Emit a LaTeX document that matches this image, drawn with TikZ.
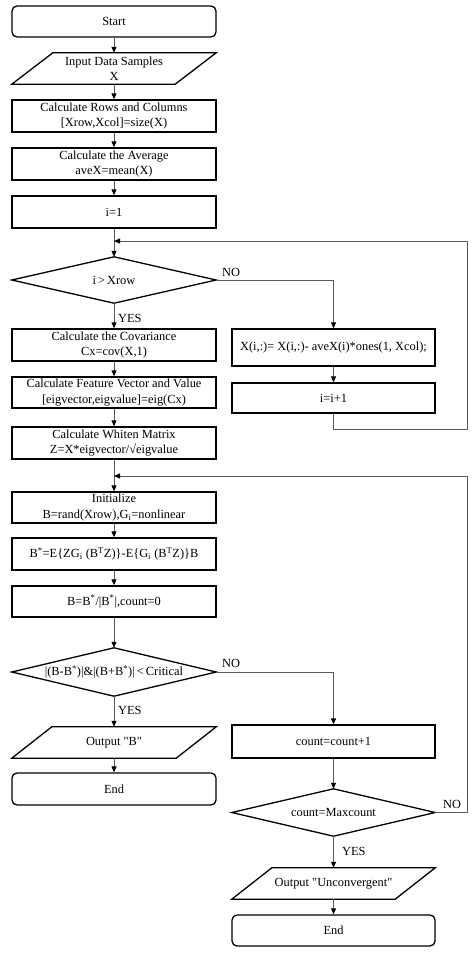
\documentclass[tikz,border=0pt]{standalone}
\usepackage{fontspec}
\setmainfont{Liberation Serif}[Ligatures=TeXOff]
\usetikzlibrary{arrows.meta,calc}
\begin{document}
\begin{tikzpicture}[x=1pt,y=-1pt,
  every node/.style={font=\fontsize{12.4}{15.5}\selectfont, align=center, inner sep=0pt},
  box/.style={draw=black, line width=1.3pt, minimum height=#1, minimum width=204pt},
  rbox/.style={draw=black, line width=1.3pt, minimum height=#1, minimum width=203pt},
  term/.style={draw=black, line width=1.3pt, rounded corners=5pt, minimum height=#1, minimum width=204pt},
  rterm/.style={draw=black, line width=1.3pt, rounded corners=5pt, minimum height=#1, minimum width=203pt},
  ghost/.style={minimum height=#1, minimum width=204pt},
  rghost/.style={minimum height=#1, minimum width=203pt},
  shapeline/.style={draw=black, line width=1.3pt, line join=miter},
  conn/.style={draw=black!65, line width=1pt, -{Stealth[length=6pt,width=5pt,inset=0pt,color=black]}},
  lbl/.style={font=\fontsize{12.4}{15}\selectfont}
]
\useasboundingbox (0,0) rectangle (474,953);
\fill[white] (0,0) rectangle (474,953);

% left column
\node[term=31pt] (start) at (114,21.5) {Start};
\node[ghost=31pt] (input) at (114,68.5) {Input Data Samples\\X};
\draw[shapeline] ($(input.north west)+(41,0)$) -- (input.north east) -- ($(input.south east)+(-41,0)$) -- (input.south west) -- cycle;
\node[box=32pt] (rows) at (114,116) {Calculate Rows and Columns\\{}[Xrow,Xcol]=size(X)};
\node[box=32pt] (avg) at (114,164) {Calculate the Average\\aveX=mean(X)};
\node[box=32pt] (i1) at (114,212) {i=1};
\node[ghost=46pt] (d1) at (114,280) {i\,>\,Xrow};
\draw[shapeline] (d1.north) -- (d1.east) -- (d1.south) -- (d1.west) -- cycle;
\node[box=32pt] (cov) at (114,345) {Calculate the Covariance\\Cx=cov(X,1)};
\node[box=31pt] (feat) at (114,392.5) {Calculate Feature Vector and Value\\{}[eigvector,eigvalue]=eig(Cx)};
\node[box=32pt] (whit) at (114,443) {Calculate Whiten Matrix\\Z=X*eigvector/√eigvalue};
\node[box=31pt] (init) at (114,507.5) {Initialize\\B=rand(Xrow),G\textsubscript{i}=nonlinear};
\node[box=32pt] (bstar) at (114,554) {B\textsuperscript{*}=E\{ZG\textsubscript{i} (B\textsuperscript{T}Z)\}-E\{G\textsubscript{i} (B\textsuperscript{T}Z)\}B};
\node[box=31pt] (bnorm) at (114,601.5) {B=B\textsuperscript{*}/|B\textsuperscript{*}|,count=0};
\node[ghost=48pt] (d2) at (114,672) {|(B-B\textsuperscript{*})|\&|(B+B\textsuperscript{*})|\,<\,Critical};
\draw[shapeline] (d2.north) -- (d2.east) -- (d2.south) -- (d2.west) -- cycle;
\node[ghost=31pt] (outb) at (114,742.5) {Output "B"};
\draw[shapeline] ($(outb.north west)+(40,0)$) -- (outb.north east) -- ($(outb.south east)+(-40,0)$) -- (outb.south west) -- cycle;
\node[term=32pt] (end1) at (114,789) {End};

% right column
\node[rbox=37pt] (xbox) at (333.5,347.5) {X(i,:)= X(i,:)- aveX(i)*ones(1, Xcol);};
\node[rbox=30pt] (inc) at (333.5,398) {i=i+1};
\node[rbox=33pt] (cnt) at (333.5,741.5) {count=count+1};
\node[rghost=47pt] (d3) at (333.5,812.5) {count=Maxcount};
\draw[shapeline] (d3.north) -- (d3.east) -- (d3.south) -- (d3.west) -- cycle;
\node[rghost=31pt] (outu) at (333.5,883.5) {Output "Unconvergent"};
\draw[shapeline] ($(outu.north west)+(40,0)$) -- (outu.north east) -- ($(outu.south east)+(-40,0)$) -- (outu.south west) -- cycle;
\node[rterm=31pt] (end2) at (333.5,930.5) {End};

% merge points
\coordinate (m1) at (114,241);
\coordinate (r1) at (467,429);
\coordinate (m2) at (114,476);
\coordinate (r2) at (467,476);

% connectors
\draw[conn] (start) -- (input);
\draw[conn] (input) -- (rows);
\draw[conn] (rows) -- (avg);
\draw[conn] (avg) -- (i1);
\draw[conn] (i1) -- (d1);
\draw[conn] (d1) -- (cov);
\draw[conn] (d1.east) -| (xbox.north);
\draw[conn] (xbox) -- (inc);
\draw[conn] (inc.south) |- (r1) |- (m1);
\draw[conn] (cov) -- (feat);
\draw[conn] (feat) -- (whit);
\draw[conn] (whit) -- (init);
\draw[conn] (init) -- (bstar);
\draw[conn] (bstar) -- (bnorm);
\draw[conn] (bnorm) -- (d2);
\draw[conn] (d2) -- (outb);
\draw[conn] (outb) -- (end1);
\draw[conn] (d2.east) -| (cnt.north);
\draw[conn] (cnt) -- (d3);
\draw[conn] (d3.east) -| (r2) -- (m2);
\draw[conn] (d3) -- (outu);
\draw[conn] (outu) -- (end2);

% labels
\node[lbl, anchor=west] (no1) at (222,272) {NO};
\node[lbl, anchor=west] (yes1) at (118,318) {YES};
\node[lbl, anchor=west] (no2) at (222,663) {NO};
\node[lbl, anchor=west] (yes2) at (118,710) {YES};
\node[lbl] (no3) at (452,804) {NO};
\node[lbl, anchor=west] (yes3) at (342,851) {YES};
\end{tikzpicture}
\end{document}
